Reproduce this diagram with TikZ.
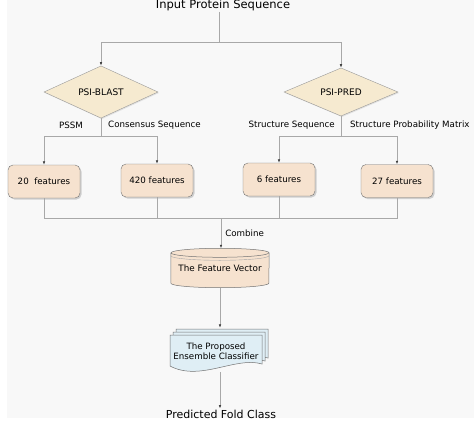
\documentclass[tikz,border=0pt]{standalone}
\usepackage{fontspec}
\setmainfont{DejaVu Sans}
\usetikzlibrary{positioning}
\usetikzlibrary{shapes.geometric,shadows}
\usetikzlibrary{arrows.meta,backgrounds}
\pgfdeclarelayer{back}
\pgfsetlayers{back,background,main}
\definecolor{linegray}{HTML}{A8A8A8}
\definecolor{cream}{HTML}{F6EAD0}
\definecolor{peach}{HTML}{F6E2CF}
\definecolor{paleblue}{HTML}{DFEEF5}
\definecolor{panel}{HTML}{F8F8F8}
\tikzset{
 decision/.style = {%
    shape=diamond,
    draw=gray!80,
    fill=cream,
    inner sep=0pt,
    minimum width=114pt,
    minimum height=41pt,
    font=\fontsize{9}{10}\selectfont,
    drop shadow={shadow xshift=1pt, shadow yshift=-1pt, fill=gray!40}},
   box/.style = {%
    shape=rectangle,
    rounded corners=5pt,
    draw=gray!90!black,
    fill=peach,
    minimum width=72pt,
    minimum height=33pt,
    font=\fontsize{8.7}{10}\selectfont,
    drop shadow={shadow xshift=1.5pt, shadow yshift=-1.5pt, fill=gray!70}},
   tag/.style = {font=\fontsize{8.7}{10}\selectfont, inner sep=1pt},
  title/.style = {font=\fontsize{11.5}{13}\selectfont, inner sep=1pt},
  link/.style = {draw=linegray, line width=0.6pt},
 arrow/.style = {%
    draw=linegray,
    line width=0.6pt,
    -{Latex[length=3.5pt,width=2.6pt,color=black!75]}},
  sheet/.style = {draw=gray!90!black, fill=paleblue, line width=0.5pt},
}

\begin{document}
\begin{tikzpicture}[x=1pt,y=-1pt]
    \clip (0,0) rectangle (474,434);
    \begin{pgfonlayer}{back}
        \fill[panel] (7,0) rectangle (474,418);
    \end{pgfonlayer}

    % source and the two tools
    \node[title] (input) at (223,5) {Input Protein Sequence};
    \node[decision] (blast) at (101,92) {PSI-BLAST};
    \node[decision] (pred) at (341,92) {PSI-PRED};
    \coordinate (fork) at (219,42);
    \draw[link] (input.south -| fork) -- (fork);
    \draw[arrow] (fork) -| (blast.north);
    \draw[arrow] (fork) -| (pred.north);

    % feature groups
    \node[box] (f20) at (44,181.5) {20\ \ features};
    \node[box] (f420) at (157,180.5) {420 features};
    \node[box] (f6) at (279,179.5) {6 features};
    \node[box] (f27) at (397,181) {27 features};

    \coordinate (blastfork) at (101,136);
    \coordinate (predfork) at (341,136);
    \draw[link] (blast.south) -- (blastfork);
    \draw[arrow] (blastfork) -| (f20.north);
    \draw[arrow] (blastfork) -| (f420.north);
    \draw[link] (pred.south) -- (predfork);
    \draw[arrow] (predfork) -| (f6.north);
    \draw[arrow] (predfork) -| (f27.north);

    \node[tag] at (71,125) {PSSM};
    \node[tag, anchor=west] at (107,125) {Consensus Sequence};
    \node[tag, anchor=east] at (336,125) {Structure Sequence};
    \node[tag, anchor=west] at (349,125) {Structure Probability Matrix};

    % combine into one vector
    \node[inner sep=0pt, minimum width=98pt, minimum height=39pt,
          font=\fontsize{8.8}{10}\selectfont] (vec) at (220,268) {\raisebox{-6pt}{The Feature Vector}};
    \coordinate (join) at (221,218);
    \draw[link] (f20.south) |- (join);
    \draw[link] (f27.south) |- (join);
    \draw[link] (f420.south) -- (f420.south |- join);
    \draw[link] (f6.south) -- (f6.south |- join);
    \draw[arrow] (join) -- (join |- vec.north) node[tag, midway, right=3pt] {Combine};

    \begin{pgfonlayer}{background}
        \draw[draw=gray!90!black, fill=peach, line width=0.5pt]
            ([yshift=-4.5pt]vec.north west) -- ([yshift=4.5pt]vec.south west)
            arc[start angle=180, end angle=0, x radius=49, y radius=4.5]
            -- ([yshift=-4.5pt]vec.north east)
            arc[start angle=0, end angle=-180, x radius=49, y radius=4.5];
        \draw[draw=gray!90!black, line width=0.5pt]
            ([yshift=-4.5pt]vec.north west)
            arc[start angle=180, end angle=0, x radius=49, y radius=4.5];
        \draw[draw=gray!70, line width=0.4pt]
            ([yshift=-7.5pt]vec.north west)
            arc[start angle=180, end angle=0, x radius=49, y radius=4.5];
    \end{pgfonlayer}

    % classifier and output
    \node[align=center, inner sep=0pt, minimum width=92pt, minimum height=33pt,
          font=\fontsize{8.7}{10.5}\selectfont] (clf) at (216,351.5) {The Proposed\\Ensemble Classifier};
    \begin{pgfonlayer}{background}
        \foreach \s in {6,3,0}
            \draw[sheet, shift={(\s,-\s)}]
                (170,366) -- (170,335) -- (262,335) -- (262,364)
                .. controls (236,356) and (200,382) .. cycle;
    \end{pgfonlayer}
    \draw[arrow] (vec.south) -- ([yshift=7pt]clf.north -| vec.south);
    \node[title, font=\fontsize{11}{13}\selectfont] (fold) at (221,414) {Predicted Fold Class};
    \draw[arrow] ([yshift=-4pt]clf.south -| vec.south) -- (fold.north -| vec.south);
\end{tikzpicture}
\end{document}
